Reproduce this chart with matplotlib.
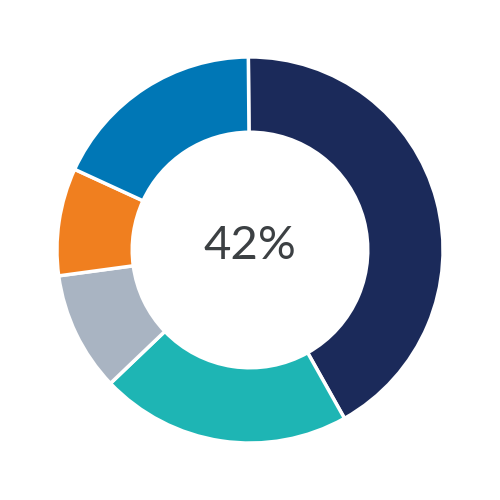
import matplotlib.pyplot as plt

labels = ['Navy', 'Teal', 'Gray', 'Orange', 'Blue']
values = [42, 21, 10, 9, 18]
colors = ['#1b2a5a', '#1eb5b4', '#a9b4c2', '#f07f1f', '#0077b6']
center_label = '42%'

fig = plt.figure(figsize=(5, 5), dpi=100)
ax = fig.add_axes([0, 0, 1, 1])
ax.pie(values, colors=colors, startangle=90.5, counterclock=False,
       radius=1, wedgeprops=dict(width=0.39, edgecolor='white', linewidth=2.5))
ax.text(0, 0.02, center_label, ha='center', va='center', fontsize=34,
        color='#3c4043', family=['Lato', 'DejaVu Sans'], fontweight='normal')
ax.set_xlim(-1.295, 1.295)
ax.set_ylim(-1.295, 1.295)
ax.set_aspect('equal')
ax.axis('off')
fig.savefig('out.png', dpi=100)
